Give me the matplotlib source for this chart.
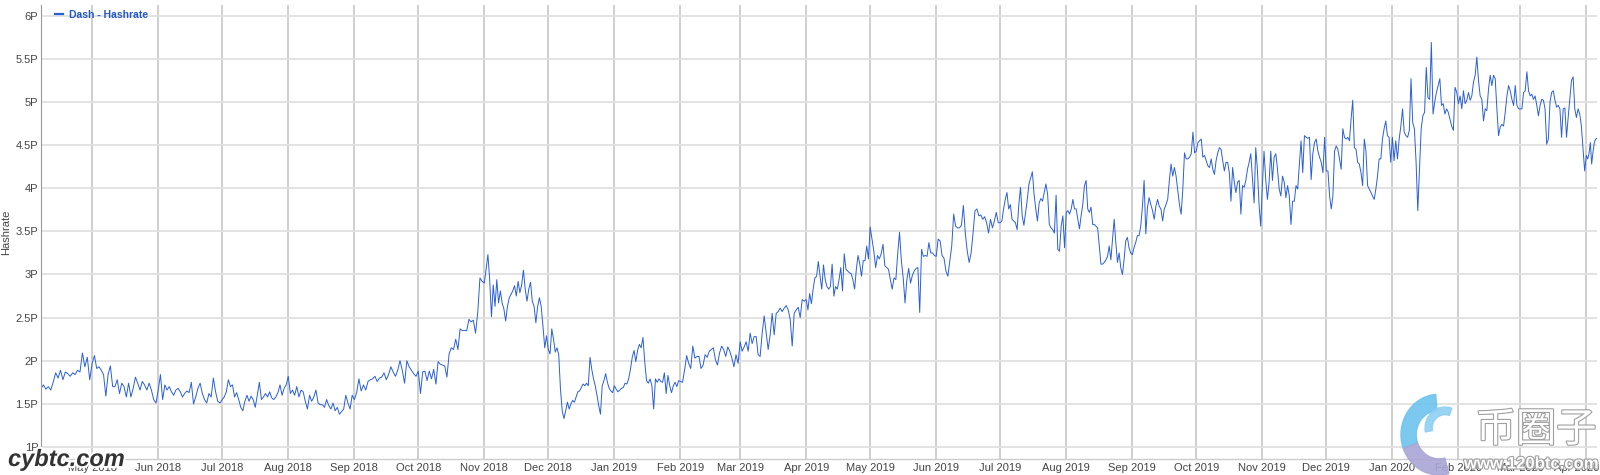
import numpy as np
import pandas as pd
import matplotlib
matplotlib.use('Agg')
import matplotlib.pyplot as plt
import matplotlib.dates as mdates
import matplotlib.patheffects as pe
import matplotlib.transforms as mtransforms
from matplotlib.lines import Line2D
from matplotlib.patches import Wedge
from matplotlib.ticker import FuncFormatter, MultipleLocator

plt.rcParams['font.family'] = ['Liberation Sans', 'DejaVu Sans']

# daily hashrate (P)
apr_2018 = [1.68, 1.72, 1.67, 1.70, 1.66, 1.75, 1.86, 1.80, 1.89, 1.78, 1.87, 1.85, 1.82, 1.86,
            1.84, 1.89, 1.87, 2.09, 1.93, 2.04, 1.78]
may_2018 = [1.97, 2.06, 1.91, 1.93, 1.89, 1.84, 1.59, 1.84, 1.94, 1.70, 1.70, 1.78, 1.62, 1.74,
            1.70, 1.58, 1.74, 1.58, 1.68, 1.81, 1.74, 1.66, 1.76, 1.72, 1.66, 1.74, 1.66, 1.55, 1.51]
jun_2018 = [1.66, 1.84, 1.55, 1.72, 1.66, 1.70, 1.64, 1.60, 1.66, 1.68, 1.64, 1.58, 1.62, 1.65,
            1.63, 1.75, 1.50, 1.58, 1.68, 1.74, 1.62, 1.55, 1.51, 1.62, 1.58, 1.80, 1.64, 1.53, 1.51]
jul_2018 = [1.55, 1.58, 1.64, 1.78, 1.70, 1.72, 1.58, 1.63, 1.55, 1.46, 1.42, 1.53, 1.60, 1.53,
            1.59, 1.55, 1.46, 1.60, 1.75, 1.55, 1.58, 1.62, 1.58, 1.64, 1.57, 1.55, 1.58, 1.63,
            1.72, 1.60, 1.68, 1.72]
aug_2018 = [1.82, 1.62, 1.66, 1.60, 1.70, 1.58, 1.66, 1.64, 1.53, 1.44, 1.60, 1.53, 1.58, 1.66,
            1.51, 1.49, 1.49, 1.46, 1.55, 1.48, 1.44, 1.51, 1.42, 1.46, 1.38, 1.41, 1.44, 1.60,
            1.51, 1.44, 1.60]
sep_2018 = [1.55, 1.63, 1.79, 1.65, 1.72, 1.66, 1.76, 1.78, 1.79, 1.82, 1.76, 1.80, 1.81, 1.86,
            1.78, 1.84, 1.93, 1.87, 1.82, 1.89, 2.00, 1.89, 1.74, 2.00, 1.93, 1.89, 1.85, 1.82]
oct_2018 = [1.88, 1.62, 1.87, 1.88, 1.77, 1.88, 1.79, 1.90, 1.73, 1.99, 1.96, 1.95, 1.94, 1.81,
            2.08, 2.15, 2.13, 2.25, 2.13, 2.37, 2.35, 2.35, 2.35, 2.48, 2.45, 2.47, 2.32, 2.56,
            2.96, 2.92]
nov_2018 = [2.90, 3.06, 3.23, 2.94, 2.51, 2.88, 2.63, 2.94, 2.67, 2.81, 2.67, 2.60, 2.46, 2.63,
            2.73, 2.77, 2.81, 2.87, 2.75, 2.92, 2.79, 2.88, 3.05, 2.83, 2.69, 2.83, 2.91, 2.69,
            2.63, 2.44, 2.63, 2.73, 2.63, 2.40, 2.15, 2.29]
dec_2018 = [2.13, 2.08, 2.37, 2.25, 2.10, 2.15, 2.07, 1.67, 1.42, 1.33, 1.42, 1.52, 1.44, 1.50,
            1.54, 1.52, 1.58, 1.64, 1.65, 1.69, 1.73, 1.71, 1.74, 1.71, 2.04, 1.90, 1.79, 1.71,
            1.60, 1.48, 1.38, 1.71, 1.77, 1.85, 1.75, 1.68, 1.65, 1.63]
jan_2019 = [1.71, 1.67, 1.64, 1.66, 1.68, 1.69, 1.74, 1.73, 1.79, 1.90, 2.04, 2.12, 1.99, 2.12,
            2.19, 2.15, 2.27, 1.99, 1.77, 1.74, 1.79, 1.71, 1.44, 1.79, 1.75, 1.79, 1.76, 1.75,
            1.86, 1.62, 1.83, 1.71, 1.63, 1.71, 1.75, 1.70, 1.77]
feb_2019 = [1.76, 1.75, 1.89, 2.06, 1.97, 1.91, 2.17, 2.03, 2.05, 2.05, 1.91, 1.95, 2.07, 2.04,
            2.11, 2.13, 2.15, 2.01, 1.95, 2.09, 2.17, 2.13, 2.05, 2.16, 2.11, 2.03, 1.93, 2.07, 1.97]
mar_2019 = [2.22, 2.11, 2.16, 2.22, 2.11, 2.32, 2.20, 2.28, 2.28, 2.07, 2.05, 2.32, 2.52, 2.32,
            2.13, 2.30, 2.55, 2.30, 2.55, 2.57, 2.61, 2.57, 2.61, 2.64, 2.59, 2.48, 2.17, 2.55,
            2.59, 2.62, 2.50, 2.71, 2.69]
apr_2019 = [2.71, 2.59, 2.78, 2.66, 2.83, 2.96, 2.98, 3.15, 2.98, 2.83, 3.11, 2.94, 2.86, 2.83,
            2.86, 3.12, 2.75, 2.86, 2.83, 2.94, 3.08, 2.81, 3.24, 3.06, 3.04, 3.02, 3.01, 2.94,
            2.83, 3.06, 3.22, 3.12, 2.98, 3.16, 3.16, 3.33, 3.18]
may_2019 = [3.55, 3.41, 3.27, 3.08, 3.22, 3.18, 3.24, 3.35, 3.10, 3.08, 3.06, 2.94, 2.83, 2.96,
            2.94, 3.24, 3.49, 3.16, 2.96, 2.67, 2.94, 3.07, 2.90, 2.99, 3.04, 3.07, 3.08, 2.56,
            3.29, 3.21, 3.22, 3.21, 3.37, 3.25, 3.25, 3.22]
jun_2019 = [3.21, 3.41, 3.39, 3.22, 3.19, 3.04, 2.98, 3.16, 3.33, 3.70, 3.56, 3.54, 3.54, 3.57,
            3.80, 3.48, 3.27, 3.14, 3.25, 3.48, 3.74, 3.76, 3.68, 3.69, 3.64, 3.67, 3.60, 3.48,
            3.64, 3.54, 3.62, 3.72, 3.60]
jul_2019 = [3.60, 3.62, 3.76, 3.87, 3.95, 3.76, 3.81, 3.64, 3.62, 3.60, 3.52, 3.81, 4.01, 3.68,
            3.57, 3.72, 3.87, 4.05, 4.12, 4.19, 3.93, 3.76, 3.62, 3.83, 3.88, 3.85, 3.95, 4.05,
            3.93, 3.58, 3.54, 3.52, 3.48, 3.92, 3.29, 3.27, 3.56, 3.68, 3.31]
aug_2019 = [3.72, 3.74, 3.70, 3.76, 3.87, 3.76, 3.76, 3.64, 3.53, 3.68, 3.81, 4.03, 4.09, 3.76,
            3.72, 3.78, 3.58, 3.58, 3.56, 3.54, 3.33, 3.12, 3.12, 3.14, 3.17, 3.21, 3.33, 3.17,
            3.41, 3.64, 3.37, 3.14, 3.25, 3.08, 3.00, 3.17, 3.39, 3.43, 3.31, 3.25]
sep_2019 = [3.23, 3.31, 3.37, 3.45, 3.45, 3.56, 3.79, 4.09, 3.47, 3.78, 3.89, 3.81, 3.74, 3.64,
            3.79, 3.87, 3.79, 3.76, 3.62, 3.76, 3.81, 3.87, 4.09, 4.28, 4.14, 4.24, 4.14, 3.97,
            3.81, 3.70, 3.99, 4.41, 4.34, 4.34, 4.36, 4.40, 4.65, 4.41]
oct_2019 = [4.43, 4.53, 4.55, 4.57, 4.36, 4.38, 4.32, 4.26, 4.24, 4.34, 4.22, 4.16, 4.32, 4.41,
            4.47, 4.45, 4.32, 4.20, 4.30, 4.30, 4.18, 3.85, 4.24, 4.07, 3.95, 4.07, 4.09, 3.70,
            4.03, 4.01, 4.09, 4.22, 4.30, 4.40, 4.12, 3.83, 4.47, 4.22, 3.81, 3.56]
nov_2019 = [4.03, 4.43, 4.10, 3.87, 4.07, 4.43, 4.09, 4.36, 4.40, 4.22, 3.99, 3.91, 4.14, 4.07,
            3.89, 4.03, 3.91, 3.58, 3.85, 3.85, 4.03, 3.99, 4.28, 4.55, 4.18, 4.61, 4.59, 4.58,
            4.59, 4.10, 4.40, 4.53, 4.57, 4.43, 4.36, 4.30, 4.18, 4.59]
dec_2019 = [4.20, 4.20, 3.91, 3.76, 3.91, 4.43, 4.49, 4.45, 4.34, 4.22, 4.69, 4.59, 4.57, 4.59,
            4.55, 4.80, 5.02, 4.47, 4.45, 4.30, 4.28, 4.18, 4.03, 4.57, 4.43, 4.03, 3.99, 3.95,
            3.91, 3.87, 3.99, 4.14, 4.34, 4.34, 4.57, 4.69, 4.78, 4.61, 4.59, 4.30]
jan_2020 = [4.59, 4.32, 4.55, 4.34, 4.57, 4.72, 4.92, 4.65, 4.61, 4.59, 4.67, 5.27, 4.76, 4.69,
            4.30, 3.74, 4.22, 4.69, 4.84, 4.88, 5.40, 5.05, 5.03, 5.69, 4.86, 5.00, 5.11, 5.19,
            5.27, 4.96, 4.98, 4.86, 4.92, 4.88, 4.80, 4.72, 4.67, 5.17, 5.11]
feb_2020 = [4.98, 5.07, 4.92, 5.13, 4.98, 5.02, 5.11, 5.02, 5.07, 5.23, 5.31, 5.52, 5.25, 5.07,
            5.03, 4.78, 4.92, 4.90, 5.15, 5.31, 5.19, 5.31, 5.27, 4.92, 4.61, 4.71, 4.74, 4.72,
            4.88, 5.07, 5.19, 5.13, 5.03, 4.96, 5.19, 4.96, 4.92]
mar_2020 = [4.92, 4.92, 5.11, 5.13, 5.35, 5.13, 5.07, 5.09, 5.03, 5.07, 4.96, 4.84, 4.96, 5.03,
            5.02, 4.92, 4.51, 4.57, 5.00, 5.11, 5.13, 5.02, 4.94, 4.96, 4.92, 4.59, 4.92, 4.93,
            4.59, 4.82, 5.03, 5.25, 5.29, 4.92, 4.82, 4.92, 4.86, 4.72, 4.45, 4.20]
apr_2020 = [4.38, 4.34, 4.40, 4.53, 4.28, 4.42, 4.53, 4.57, 4.58]

MONTHS = [
    ('2018-04-07', apr_2018), ('2018-05-01', may_2018), ('2018-06-01', jun_2018),
    ('2018-07-01', jul_2018), ('2018-08-01', aug_2018), ('2018-09-01', sep_2018),
    ('2018-10-01', oct_2018), ('2018-11-01', nov_2018), ('2018-12-01', dec_2018),
    ('2019-01-01', jan_2019), ('2019-02-01', feb_2019), ('2019-03-01', mar_2019),
    ('2019-04-01', apr_2019), ('2019-05-01', may_2019), ('2019-06-01', jun_2019),
    ('2019-07-01', jul_2019), ('2019-08-01', aug_2019), ('2019-09-01', sep_2019),
    ('2019-10-01', oct_2019), ('2019-11-01', nov_2019), ('2019-12-01', dec_2019),
    ('2020-01-01', jan_2020), ('2020-02-01', feb_2020), ('2020-03-01', mar_2020),
    ('2020-04-01', apr_2020),
]
END_DATE = '2020-04-06'

dates, values = [], []
for i, (start, vals) in enumerate(MONTHS):
    if i + 1 < len(MONTHS):
        d = pd.date_range(start, MONTHS[i + 1][0], periods=len(vals) + 1)[:-1]
    else:
        d = pd.date_range(start, END_DATE, periods=len(vals))
    dates.extend(d)
    values.extend(vals)

LINE_COLOR = '#2a5fd8'
W, H = 1600, 475

fig = plt.figure(figsize=(W / 100, H / 100), dpi=100)
ax = fig.add_axes([41 / W, 1 - 459 / H, (1597 - 41) / W, (459 - 5) / H])

ax.plot(dates, values, color=LINE_COLOR, lw=0.7)

ax.set_xlim(pd.Timestamp(MONTHS[0][0]), pd.Timestamp(END_DATE))
ax.set_ylim(0.861, 6.124)

ax.xaxis.set_major_locator(mdates.MonthLocator())
ax.xaxis.set_major_formatter(mdates.DateFormatter('%b %Y'))
ax.yaxis.set_major_locator(MultipleLocator(0.5))
ax.yaxis.set_major_formatter(FuncFormatter(lambda v, _: f'{v:g}P'))

ax.grid(axis='x', color='#cccccc', lw=1.3)
ax.grid(axis='y', color='#e0e0e0', lw=1.3)
ax.set_axisbelow(True)
for side in ('top', 'right'):
    ax.spines[side].set_visible(False)
ax.spines['left'].set_color('#999999')
ax.spines['left'].set_linewidth(0.8)
ax.spines['bottom'].set_color('#cccccc')
ax.spines['bottom'].set_linewidth(1.0)
ax.tick_params(length=0, labelsize=8, colors='#444444')
ax.tick_params(axis='y', pad=2)
ax.tick_params(axis='x', pad=3)

# last month label is pulled inside the figure edge, as in the original
fig.canvas.draw()
last = ax.get_xticklabels()[-1]
last.set_transform(last.get_transform() + mtransforms.ScaledTranslation(-10 / 100, 0, fig.dpi_scale_trans))

fig.text(6 / W, 1 - 232 / H, 'Hashrate', rotation=90, ha='center', va='center',
         fontsize=8, color='#444444')

handle = Line2D([], [], color=LINE_COLOR, lw=1.6)
leg = ax.legend([handle], ['Dash - Hashrate'], loc='center left',
                bbox_to_anchor=(55 / W, 1 - 15 / H), bbox_transform=fig.transFigure,
                frameon=False, handlelength=0.8, handletextpad=0.5,
                borderpad=0, borderaxespad=0,
                prop={'size': 7.5, 'weight': 'bold'})
for t in leg.get_texts():
    t.set_color('#2356c9')

# watermarks
fig.text(8 / W, 1 - 466 / H, 'cybtc.com', fontsize=17, weight='bold', style='italic',
         color='#333333', va='baseline', ha='left',
         path_effects=[pe.withStroke(linewidth=3, foreground='white')])

logo = fig.add_axes([1395 / W, 0, 80 / W, 85 / H])
logo.set_xlim(-1, 1)
logo.set_ylim(-1, 1)
logo.axis('off')
logo.add_patch(Wedge((0.1, -0.05), 0.95, 95, 200, width=0.38, color='#6ec3ee', alpha=0.9))
logo.add_patch(Wedge((0.1, -0.05), 0.95, 200, 285, width=0.38, color='#a9a6d6', alpha=0.9))
logo.add_patch(Wedge((0.25, 0.1), 0.5, 70, 190, width=0.18, color='#8fd0f2', alpha=0.9))

outline = [pe.Stroke(linewidth=1.6, foreground='#a0a0a0'), pe.Normal()]
fig.text(1536 / W, 1 - 430 / H, '币圈子', fontsize=29, color='white', ha='center', va='center',
         family=['Noto Sans CJK SC', 'DejaVu Sans'], path_effects=outline)
fig.text(1531 / W, 1 - 464 / H, 'www.120btc.com', fontsize=12, weight='bold', color='white',
         ha='center', va='center', path_effects=outline)

fig.savefig('out.png', dpi=100)
